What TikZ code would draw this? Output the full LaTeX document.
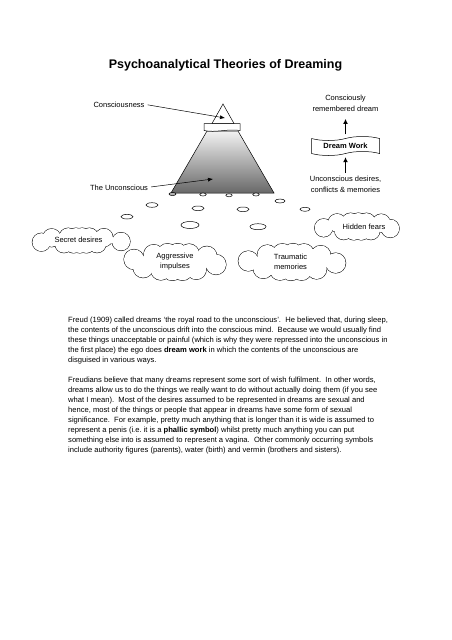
\documentclass[tikz,border=0pt]{standalone}
\usepackage{fontspec}
\setmainfont{Liberation Sans}
\usetikzlibrary{shapes.symbols,shapes.geometric,arrows.meta}
\definecolor{topg}{HTML}{F2F2F2}
\definecolor{botg}{HTML}{686868}
% cloud made of overlapping puffs: #1 cx, #2 cy, #3 a, #4 b, #5 puffs, #6 puff radius, #7 start angle
\newcommand\ballcloud[7]{%
  \foreach \k in {1,...,#5}{
    \pgfmathsetmacro\cth{atan2(sqrt(#3/#4)*sin(#7+360*\k/#5),cos(#7+360*\k/#5))}
    \draw[line width=1pt] ({#1+#3*cos(\cth)},{#2+#4*sin(\cth)}) circle[radius=#6pt];
  }
  \foreach \k in {1,...,#5}{
    \pgfmathsetmacro\cth{atan2(sqrt(#3/#4)*sin(#7+360*\k/#5),cos(#7+360*\k/#5))}
    \fill[white] ({#1+#3*cos(\cth)},{#2+#4*sin(\cth)}) circle[radius=#6pt];
  }
  \fill[white] (#1,#2) ellipse[x radius=#3pt, y radius=#4pt];
}
\begin{document}
\begin{tikzpicture}[x=1pt,y=-1pt,
  lbl/.style={font=\fontsize{7.5}{11}\selectfont, inner sep=0pt, align=center},
  cloudtxt/.style={inner sep=0pt, font=\fontsize{7.5}{10.3}\selectfont, align=center},
  arr/.style={-{Latex[length=5pt,width=4pt]}, line width=0.5pt},
  thickarr/.style={-{Latex[length=5pt,width=5pt]}, line width=1.2pt},
  pebble/.style={draw, line width=0.5pt, fill=white},
  bodytext/.style={anchor=north west, inner sep=0pt, align=left, font=\fontsize{7.6}{10}\selectfont},
]
\useasboundingbox[fill=white] (0,0) rectangle (452,640);

% title
\node[font=\fontsize{12.5}{15}\selectfont\bfseries, anchor=base, inner sep=0pt] (title) at (225.5,68) {Psychoanalytical Theories of Dreaming};

% iceberg
\shade[top color=topg, bottom color=botg, draw=black, line width=0.5pt]
  (207,131) -- (238,131) -- (274,193) -- (171,193) -- cycle;
\draw[fill=white, line width=0.5pt] (223,104) -- (234,123.5) -- (212,123.5) -- cycle;
\draw[fill=white, line width=0.5pt] (204,123.5) -- (240,123.5) -- (240,130.5)
  .. controls (229,128.5) and (215,133) .. (204,130.5) -- cycle;

% pebbles
\draw[pebble, fill=gray!60] (172.5,194) ellipse [x radius=3.5pt, y radius=1.6pt];
\draw[pebble] (203,194.5) ellipse [x radius=3.2pt, y radius=1.5pt];
\draw[pebble] (229,195.3) ellipse [x radius=3.2pt, y radius=1.5pt];
\draw[pebble] (256,194.5) ellipse [x radius=3.2pt, y radius=1.5pt];
\draw[pebble] (280,201) ellipse [x radius=5pt, y radius=2pt];
\draw[pebble] (152,205) ellipse [x radius=6pt, y radius=2.3pt];
\draw[pebble] (198,208.3) ellipse [x radius=6pt, y radius=2.3pt];
\draw[pebble] (243,209.3) ellipse [x radius=6pt, y radius=2.3pt];
\draw[pebble] (305,209.3) ellipse [x radius=5pt, y radius=2pt];
\draw[pebble] (127,216.7) ellipse [x radius=6pt, y radius=2.3pt];
\draw[pebble] (190,225) ellipse [x radius=9pt, y radius=3.5pt];
\draw[pebble] (258,226.7) ellipse [x radius=8pt, y radius=3pt];

% iceberg labels
\node[lbl, anchor=base] (lcons) at (119,107) {Consciousness};
\node[lbl, anchor=base] (lunc) at (119,190) {The Unconscious};
\coordinate (ctip) at (225,118);
\coordinate (utip) at (213,179);
\draw[arr, shorten <=3pt] (lcons.east) -- (ctip);
\draw[arr, shorten <=3pt] (lunc.east) -- (utip);

% dream work column
\node[lbl, anchor=north] (lcr) at (345.5,95) {Consciously\\remembered dream};
\node[tape, draw, fill=white, line width=0.5pt, tape bend top=in and out, tape bend bottom=in and out,
  tape bend height=4pt, minimum width=68pt, minimum height=19pt, inner sep=0pt,
  font=\fontsize{7.5}{9}\selectfont\bfseries] (dw) at (345.5,146) {Dream Work};
\node[lbl, anchor=north] (lud) at (345.5,176.2) {Unconscious desires,\\conflicts \& memories};
\draw[thickarr, shorten <=4pt, shorten >=7pt] (dw.north) -- (lcr.south);
\draw[thickarr, shorten <=3pt, shorten >=3.5pt] (lud.north) -- (dw.south);

% clouds
\ballcloud{79.5}{240.5}{43.5}{3.5}{13}{9}{5}
\node[cloudtxt] (c1) at (78.5,240) {Secret desires};
\ballcloud{175}{262}{43}{8.5}{12}{10}{8}
\node[cloudtxt] (c2) at (175,261.5) {Aggressive\\impulses};
\ballcloud{292}{262}{44}{8.5}{12}{10}{3}
\node[cloudtxt] (c3) at (290.5,261.5) {Traumatic\\memories};
\ballcloud{358}{226.5}{36}{4.5}{11}{9}{10}
\node[cloudtxt] (c4) at (364,226.5) {Hidden fears};

% body text
\node[bodytext] (p1) at (68,317) {Freud (1909) called dreams ‘the royal road to the unconscious’.\ \ He believed that, during sleep,\\
the contents of the unconscious drift into the conscious mind.\ \ Because we would usually find\\
these things unacceptable or painful (which is why they were repressed into the unconscious in\\
the first place) the ego does \textbf{dream work} in which the contents of the unconscious are\\
disguised in various ways.};
\node[bodytext] (p2) at (68,376.8) {Freudians believe that many dreams represent some sort of wish fulfilment.\ \ In other words,\\
dreams allow us to do the things we really want to do without actually doing them (if you see\\
what I mean).\ \ Most of the desires assumed to be represented in dreams are sexual and\\
hence, most of the things or people that appear in dreams have some form of sexual\\
significance.\ \ For example, pretty much anything that is longer than it is wide is assumed to\\
represent a penis (i.e.\ it is a \textbf{phallic symbol}) whilst pretty much anything you can put\\
something else into is assumed to represent a vagina.\ \ Other commonly occurring symbols\\
include authority figures (parents), water (birth) and vermin (brothers and sisters).};
\end{tikzpicture}
\end{document}
